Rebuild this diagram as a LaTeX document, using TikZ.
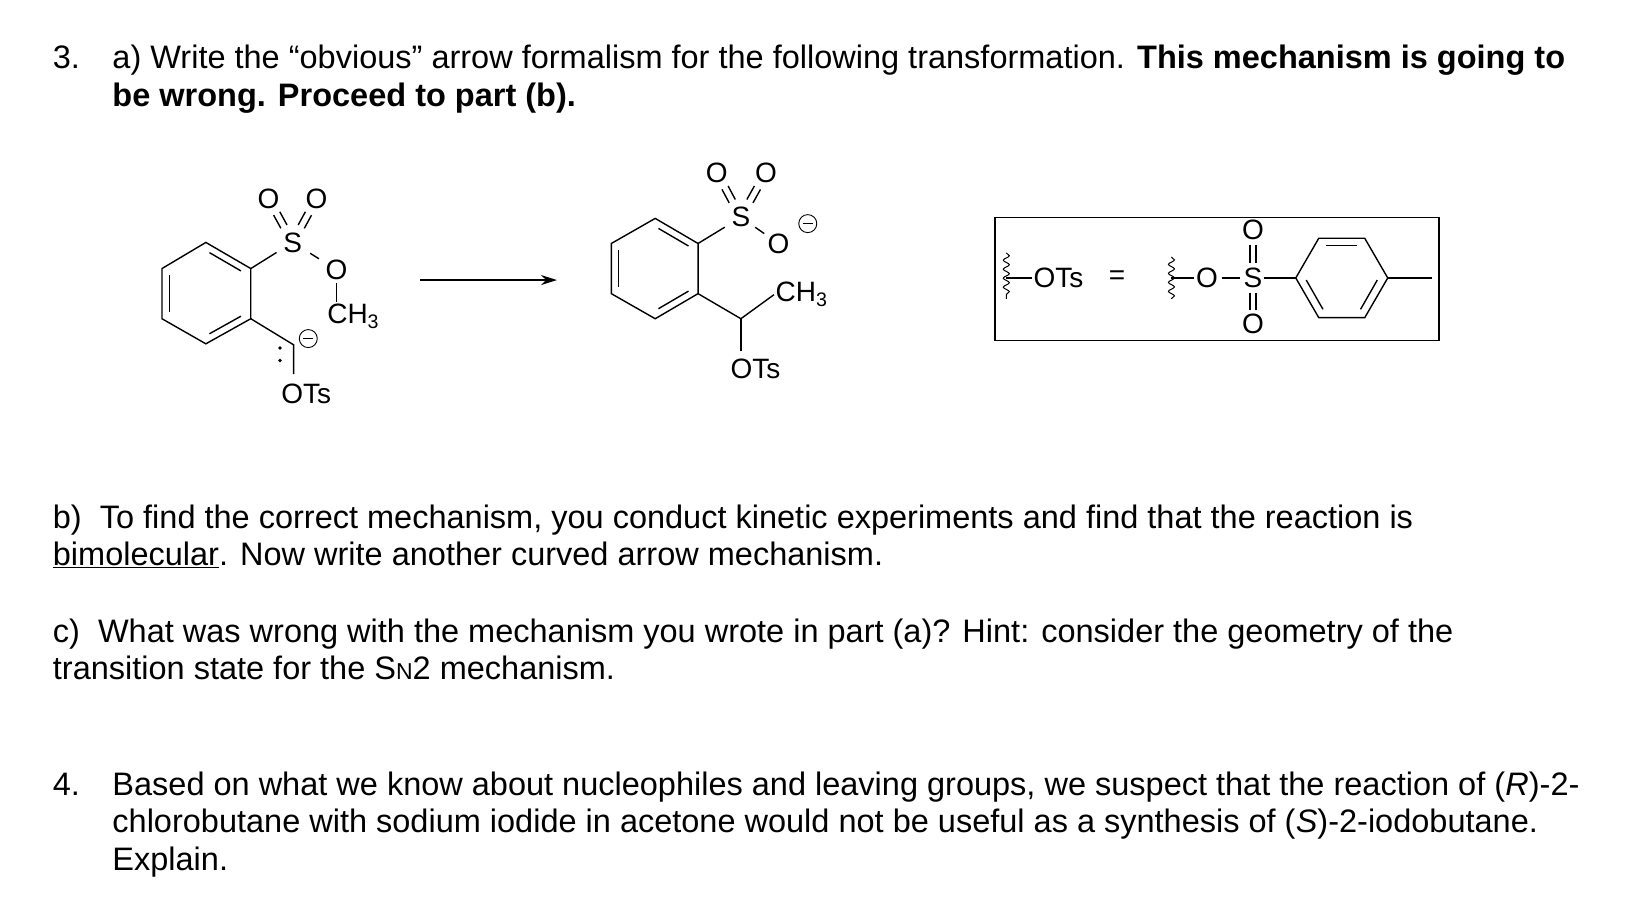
\documentclass[tikz,border=0pt]{standalone}
\usepackage{fontspec}
\setmainfont{Liberation Sans}
\usetikzlibrary{arrows.meta,decorations.pathmorphing,calc}
\newcommand\dbl[2]{%
 \draw[bond] ($($(#1)!0.36!(#2)$)!3.5pt!90:(#2)$) -- ($($(#1)!0.66!(#2)$)!3.5pt!-90:(#1)$);
 \draw[bond] ($($(#1)!0.36!(#2)$)!3.5pt!-90:(#2)$) -- ($($(#1)!0.66!(#2)$)!3.5pt!90:(#1)$);}
\begin{document}
\begin{tikzpicture}[x=1.045pt,y=-1.045pt,line width=1.3pt,
  txt/.style={anchor=base west,inner sep=0,font=\fontsize{32.5}{36}\selectfont},
  atom/.style={inner sep=1pt,font=\fontsize{28}{28}\selectfont},
  chg/.style={circle,draw,line width=0.9pt,inner sep=0pt,minimum size=18pt},
  bond/.style={line width=1.4pt},
  wavy/.style={decorate,decoration={snake,amplitude=3pt,segment length=9pt},line width=1pt}]
\useasboundingbox (0,0) rectangle (1560.8,878.5);
% text
\node[txt] (n3) at (50,66) {3.};
\node[txt] (l1) at (107,66) {a) Write the “obvious” arrow formalism for the following transformation. \textbf{This mechanism is going to}};
\node[txt] (l2) at (107,102) {\textbf{be wrong. Proceed to part (b).}};
\node[txt] (b1) at (50,506) {b)\ \ To find the correct mechanism, you conduct kinetic experiments and find that the reaction is};
\node[txt] (b2) at (50,541) {\underline{bimolecular}. Now write another curved arrow mechanism.};
\node[txt] (c1) at (50,615) {c)\ \ What was wrong with the mechanism you wrote in part (a)? Hint: consider the geometry of the};
\node[txt] (c2) at (50,650) {transition state for the S{\fontsize{23}{23}\selectfont N}2 mechanism.};
\node[txt] (n4) at (50,761) {4.};
\node[txt] (d1) at (107,761) {Based on what we know about nucleophiles and leaving groups, we suspect that the reaction of (\textit{R})-2-};
\node[txt] (d2) at (107,797) {chlorobutane with sodium iodide in acetone would not be useful as a synthesis of (\textit{S})-2-iodobutane.};
\node[txt] (d3) at (107,833) {Explain.};
% left molecule
\coordinate (a1) at (197,232); \coordinate (a2) at (240,257); \coordinate (a3) at (240,305);
\coordinate (a4) at (197,329); \coordinate (a5) at (155,305); \coordinate (a6) at (155,257);
\draw[bond] (a1)--(a2)--(a3)--(a4)--(a5)--(a6)--cycle;
\draw[bond] ($(a1)!0.15!(a2)+(-3,6)$) -- ($(a1)!0.85!(a2)+(-3,6)$);
\draw[bond] (162,263)--(162,299);
\draw[bond] ($(a3)!0.15!(a4)+(-3,-6)$) -- ($(a3)!0.85!(a4)+(-3,-6)$);
\node[atom] (s1) at (280,232) {S};
\node[atom] (o1) at (257,190) {O};
\node[atom] (o2) at (303,190) {O};
\node[atom] (o3) at (322,258) {O};
\node[atom] (me1) at (338,303) {CH\textsubscript{3}};
\node[atom] (ts1) at (293,377) {OTs};
\coordinate (c1) at (281,330);
\draw[bond,shorten >=6pt] (a2)--(s1);
\dbl{s1}{o1}
\dbl{s1}{o2}
\draw[bond] ($(s1)!0.4!(o3)$)--($(s1)!0.6!(o3)$);
\draw[bond] (322,271)--(322,289);
\draw[bond] (a3)--(c1)--(281,358);
\fill (268,333) circle (1.9pt) (268,345) circle (1.9pt);
\node[chg] (m1) at (295,324) {};
\draw[line width=1pt] ($(m1.center)+(-5,0)$)--($(m1.center)+(5,0)$);
% arrow
\coordinate (ar1) at (402,268); \coordinate (ar2) at (533,268);
\draw[bond,-{Stealth[length=16pt,width=10pt]}] (ar1)--(ar2);
% right molecule
\coordinate (b1) at (627,209); \coordinate (b2) at (668,233); \coordinate (b3) at (668,281);
\coordinate (b4) at (627,305); \coordinate (b5) at (585,281); \coordinate (b6) at (585,233);
\draw[bond] (b1)--(b2)--(b3)--(b4)--(b5)--(b6)--cycle;
\draw[bond] ($(b1)!0.15!(b2)+(-3,6)$) -- ($(b1)!0.85!(b2)+(-3,6)$);
\draw[bond] (592,239)--(592,275);
\draw[bond] ($(b3)!0.15!(b4)+(-3,-6)$) -- ($(b3)!0.85!(b4)+(-3,-6)$);
\node[atom] (s2) at (709,208) {S};
\node[atom] (o4) at (686,165) {O};
\node[atom] (o5) at (733,165) {O};
\node[atom] (o6) at (745,233) {O};
\node[chg] (m2) at (773,214) {};
\draw[line width=1pt] ($(m2.center)+(-5,0)$)--($(m2.center)+(5,0)$);
\coordinate (c2) at (709,305);
\node[atom] (me2) at (767,282) {CH\textsubscript{3}};
\node[atom] (ts2) at (723,353) {OTs};
\draw[bond,shorten >=6pt] (b2)--(s2);
\dbl{s2}{o4}
\dbl{s2}{o5}
\draw[bond] ($(s2)!0.38!(o6)$)--($(s2)!0.62!(o6)$);
\draw[bond] (b3)--(c2)--(me2.west);
\draw[bond] (c2)--(709,336);
% box
\draw[line width=1.5pt] (952,208) rectangle (1377,326);
\draw[wavy] (963,242)--(963,286);
\node[atom] (ots) at (1013,266) {OTs};
\draw[bond] (963,266)--(ots.west);
\node[atom] (eq) at (1069,266) {=};
\draw[wavy] (1121,246)--(1121,286);
\node[atom] (o7) at (1155,266) {O};
\node[atom] (s3) at (1199,266) {S};
\node[atom] (o8) at (1199,220) {O};
\node[atom] (o9) at (1199,310) {O};
\draw[bond] (1121,266)--(o7.west);
\draw[bond,shorten <=2pt,shorten >=2pt] (o7.east)--(s3.west);
\draw[bond] (1196,234)--(1196,252) (1202,234)--(1202,252);
\draw[bond] (1196,280)--(1196,297) (1202,280)--(1202,297);
\coordinate (p1) at (1240,266); \coordinate (p2) at (1262,228); \coordinate (p3) at (1306,228);
\coordinate (p4) at (1328,266); \coordinate (p5) at (1306,304); \coordinate (p6) at (1262,304);
\draw[bond] (s3.east)--(p1);
\draw[bond] (p1)--(p2)--(p3)--(p4)--(p5)--(p6)--cycle;
\draw[bond] (1269,235)--(1299,235);
\draw[bond] (1250,268)--(1266,296);
\draw[bond] (1318,268)--(1302,296);
\draw[bond] (p4)--(1370,266);
\end{tikzpicture}
\end{document}
